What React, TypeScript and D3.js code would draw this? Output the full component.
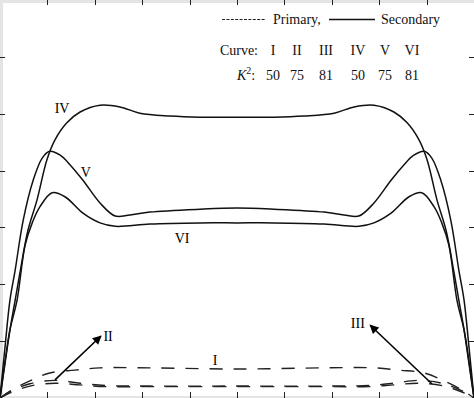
import React, { useRef, useEffect } from "react";
import { select, scaleLinear, line, curveCatmullRom } from "d3";

// secondary (solid) curves, [x, y]
const curveIV = [[0,0],[0.11,0.63],[0.21,1.2],[0.32,1.72],[0.42,2.2],[0.59,2.95],[0.78,3.48],[0.99,4.19],[1.16,4.54],[1.41,4.84],[1.69,5.03],[2.11,5.15],[2.53,5.12],[2.95,5.01],[3.59,4.96],[4.22,4.94],[5,4.94],[5.78,4.94],[6.41,4.96],[7.05,5.01],[7.47,5.12],[7.89,5.15],[8.31,5.03],[8.59,4.84],[8.84,4.54],[9.01,4.19],[9.22,3.48],[9.41,2.95],[9.58,2.2],[9.68,1.72],[9.79,1.2],[9.89,0.63],[10,0]];
const curveV = [[0,0],[0.11,0.93],[0.21,1.72],[0.32,2.25],[0.49,3.13],[0.7,3.83],[0.89,4.22],[1.05,4.34],[1.27,4.27],[1.48,4.1],[1.75,3.83],[2.11,3.43],[2.43,3.2],[2.74,3.22],[3.16,3.27],[4.22,3.32],[5,3.34],[5.78,3.32],[6.84,3.27],[7.26,3.22],[7.57,3.2],[7.89,3.43],[8.25,3.83],[8.52,4.1],[8.73,4.27],[8.95,4.34],[9.11,4.22],[9.3,3.83],[9.51,3.13],[9.68,2.25],[9.79,1.72],[9.89,0.93],[10,0]];
const curveVI = [[0,0],[0.11,0.67],[0.21,1.2],[0.36,1.72],[0.53,2.69],[0.68,3.08],[0.84,3.36],[1.1,3.61],[1.37,3.54],[1.75,3.25],[2.11,3.08],[2.43,3.02],[3.16,3.06],[4.22,3.08],[5,3.08],[5.78,3.08],[6.84,3.06],[7.57,3.02],[7.89,3.08],[8.25,3.25],[8.63,3.54],[8.9,3.61],[9.16,3.36],[9.32,3.08],[9.47,2.69],[9.64,1.72],[9.79,1.2],[9.89,0.67],[10,0]];

// primary (dashed) curves
const curveI = [[0,0],[0.25,0.14],[0.63,0.3],[1.05,0.44],[1.58,0.49],[2.11,0.53],[3.16,0.53],[5,0.51],[6.84,0.53],[7.89,0.53],[8.42,0.49],[8.95,0.44],[9.37,0.3],[9.75,0.14],[10,0]];
const curveII = [[0,0],[0.21,0.11],[0.63,0.25],[1.16,0.31],[1.69,0.26],[2.22,0.22],[3.16,0.21],[5,0.21],[6.84,0.21],[7.78,0.22],[8.31,0.26],[8.84,0.31],[9.37,0.25],[9.79,0.11],[10,0]];
const curveIII = [[0,0],[0.21,0.09],[0.63,0.21],[1.16,0.26],[1.69,0.23],[2.22,0.2],[3.16,0.2],[5,0.2],[6.84,0.2],[7.78,0.2],[8.31,0.23],[8.84,0.26],[9.37,0.21],[9.79,0.09],[10,0]];

const curveNames = ["I", "II", "III", "IV", "V", "VI"];
const kSquared = ["50", "75", "81", "50", "75", "81"];
const xTicks = [1, 2, 3, 4, 5, 6, 7, 8, 9];
const yTicks = [1, 2, 3, 4, 5, 6];

const W = 474;
const H = 398;
const FONT = "'Liberation Serif', 'Times New Roman', serif";

function Chart() {
  const svgRef = useRef(null);

  useEffect(() => {
    document.body.style.margin = "0";
    const svg = select(svgRef.current);
    svg.selectAll("*").remove();

    const xScale = scaleLinear().domain([0, 10]).range([0, W]);
    const yScale = scaleLinear().domain([0, 7]).range([H, 0]);

    // grey scan edges
    svg.append("rect").attr("x", 0).attr("y", 0).attr("width", W).attr("height", H).attr("fill", "#fff");
    svg.append("rect").attr("x", 0).attr("y", 0).attr("width", 3).attr("height", H).attr("fill", "#e4e4e4");
    svg.append("rect").attr("x", 0).attr("y", 0).attr("width", W).attr("height", 3).attr("fill", "#e4e4e4");
    svg.append("rect").attr("x", 0).attr("y", H - 2).attr("width", W).attr("height", 2).attr("fill", "#e4e4e4");

    // ticks (inward)
    const ticks = svg.append("g").attr("stroke", "#222").attr("stroke-width", 1);
    xTicks.forEach((t) => {
      const x = Math.round(xScale(t)) + 0.5;
      ticks.append("line").attr("x1", x).attr("x2", x).attr("y1", 0).attr("y2", 5);
      ticks.append("line").attr("x1", x).attr("x2", x).attr("y1", H).attr("y2", H - 6);
    });
    yTicks.forEach((t) => {
      const y = Math.round(yScale(t)) + 0.5;
      ticks.append("line").attr("x1", 0).attr("x2", 5).attr("y1", y).attr("y2", y);
      ticks.append("line").attr("x1", W - 5).attr("x2", W).attr("y1", y).attr("y2", y);
    });

    const myLine = line()
      .x((d) => xScale(d[0]))
      .y((d) => yScale(d[1]))
      .curve(curveCatmullRom.alpha(0.5));

    svg
      .selectAll(".secondary")
      .data([curveIV, curveV, curveVI])
      .join("path")
      .attr("class", "secondary")
      .attr("d", (d) => myLine(d))
      .attr("fill", "none")
      .attr("stroke", "#111")
      .attr("stroke-width", 1.5);

    svg
      .selectAll(".primary")
      .data([curveI, curveII, curveIII])
      .join("path")
      .attr("class", "primary")
      .attr("d", (d) => myLine(d))
      .attr("fill", "none")
      .attr("stroke", "#222")
      .attr("stroke-width", 1.4)
      .attr("stroke-dasharray", "13,11");

    // arrows
    svg
      .append("defs")
      .append("marker")
      .attr("id", "arrow")
      .attr("viewBox", "0 0 10 10")
      .attr("refX", 9)
      .attr("refY", 5)
      .attr("markerWidth", 10)
      .attr("markerHeight", 9)
      .attr("markerUnits", "userSpaceOnUse")
      .attr("orient", "auto")
      .append("path")
      .attr("d", "M0,0 L10,5 L0,10 Z")
      .attr("fill", "#000");

    const arrows = [
      [[1.16, 0.32], [2.13, 1.09]],
      [[9.11, 0.25], [7.81, 1.28]],
    ];
    arrows.forEach(([a, b]) => {
      svg
        .append("line")
        .attr("x1", xScale(a[0]))
        .attr("y1", yScale(a[1]))
        .attr("x2", xScale(b[0]))
        .attr("y2", yScale(b[1]))
        .attr("stroke", "#000")
        .attr("stroke-width", 1.6)
        .attr("marker-end", "url(#arrow)");
    });

    // curve labels
    const labels = [
      ["IV", 1.31, 5.01],
      ["V", 1.81, 3.89],
      ["VI", 3.84, 2.73],
      ["I", 4.54, 0.58],
      ["II", 2.28, 1.0],
      ["III", 7.55, 1.23],
    ];
    svg
      .selectAll(".lbl")
      .data(labels)
      .join("text")
      .attr("class", "lbl")
      .attr("x", (d) => xScale(d[1]))
      .attr("y", (d) => yScale(d[2]))
      .attr("text-anchor", "middle")
      .attr("font-family", FONT)
      .attr("font-size", 14)
      .text((d) => d[0]);

    // legend
    const lg = svg.append("g").attr("font-family", FONT).attr("font-size", 14).attr("fill", "#111");
    lg.append("line").attr("x1", 222).attr("x2", 265).attr("y1", 19.5).attr("y2", 19.5)
      .attr("stroke", "#222").attr("stroke-width", 1.2).attr("stroke-dasharray", "3,1.4");
    lg.append("text").attr("x", 273).attr("y", 24).text("Primary,");
    lg.append("line").attr("x1", 329).attr("x2", 375).attr("y1", 19.5).attr("y2", 19.5)
      .attr("stroke", "#111").attr("stroke-width", 1.5);
    lg.append("text").attr("x", 381).attr("y", 24).text("Secondary");

    lg.append("text").attr("x", 258).attr("y", 55).attr("text-anchor", "end").text("Curve:");
    const colX = [273, 297, 326, 358, 385, 412];
    lg.selectAll(".cn")
      .data(curveNames)
      .join("text")
      .attr("class", "cn")
      .attr("x", (d, i) => colX[i])
      .attr("y", 55)
      .attr("text-anchor", "middle")
      .text((d) => d);

    const kt = lg.append("text").attr("x", 237).attr("y", 80);
    kt.append("tspan").attr("font-style", "italic").text("K");
    kt.append("tspan").attr("font-size", 10).attr("dy", -6).text("2");
    kt.append("tspan").attr("dy", 6).text(":");
    lg.selectAll(".kv")
      .data(kSquared)
      .join("text")
      .attr("class", "kv")
      .attr("x", (d, i) => colX[i])
      .attr("y", 80)
      .attr("text-anchor", "middle")
      .text((d) => d);
  }, []);

  return (
    <svg ref={svgRef} width={W} height={H} style={{ display: "block" }} />
  );
}

export default function App() {
  return <Chart />;
}
